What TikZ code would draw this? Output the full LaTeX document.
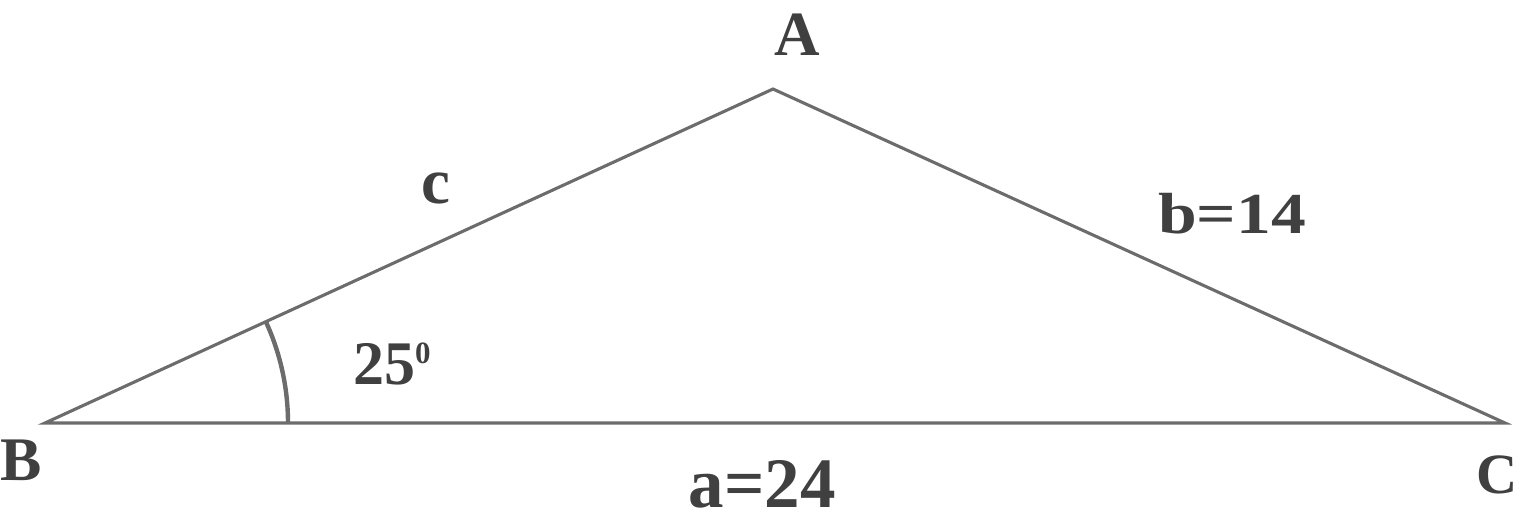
\documentclass[tikz,border=0pt]{standalone}
\usepackage{fontspec}
\setmainfont{Liberation Serif}
\definecolor{linegray}{HTML}{6C6C6C}
\definecolor{txtgray}{HTML}{404040}
\tikzset{
  side/.style={draw=linegray, line width=3.1pt, line join=miter},
  lbl/.style={text=txtgray, inner sep=0pt, anchor=base, font=\bfseries},
}
\newcommand{\fsz}[1]{\fontsize{#1}{#1}\selectfont}
\begin{document}
\begin{tikzpicture}[x=1pt, y=-1pt]
\useasboundingbox (0,0) rectangle (1536,523);
\coordinate (P_A) at (773,89);
\coordinate (P_B) at (45,423);
\coordinate (P_C) at (1505,423);
\draw[side] (P_B) -- (P_A) -- (P_C) -- cycle;
\draw[draw=linegray, line width=4.4pt] (P_B) ++(243,0) arc[start angle=0, end angle=24.7, radius=243pt];
\node[lbl, font=\bfseries\fsz{63}] (L_A) at (797,55) {A};
\node[lbl, font=\bfseries\fsz{62}] (L_B) at (21,480) {B};
\node[lbl, font=\bfseries\fsz{57}] (L_C) at (1497,493) {C};
\node[lbl, font=\bfseries\fsz{65}] (L_c) at (436,203) {c};
\node[lbl, font=\bfseries\fsz{58}] (L_b) at (1232,233) {\scalebox{1.2}[1]{b=14}};
\node[lbl, font=\bfseries\fsz{71}] (L_a) at (762,507) {a=24};
\node[lbl, anchor=base west, font=\bfseries\fsz{62}] (L_ang) at (353,384) {25\raisebox{21pt}{\fsz{31}0}};
\end{tikzpicture}
\end{document}
